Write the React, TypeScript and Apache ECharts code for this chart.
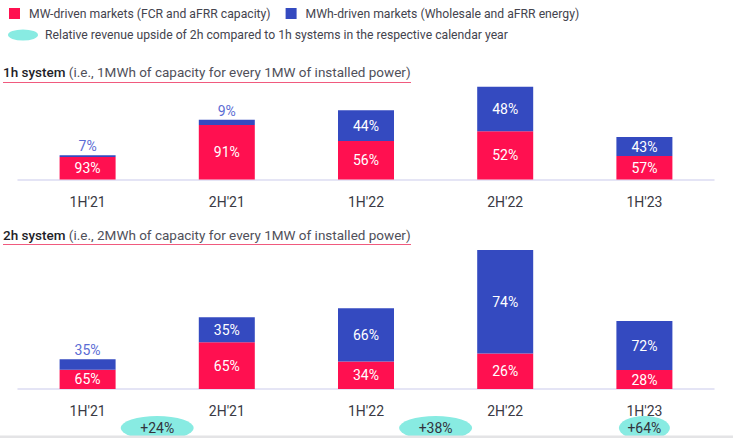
import React, { useEffect, useRef } from "react";
import * as echarts from "echarts";

const categories = ["1H'21", "2H'21", "1H'22", "2H'22", "1H'23"];
// relative revenue (same unit in both panels)
const mw1h = [22.5, 54.4, 38.5, 48.3, 23.5];
const mwh1h = [1.7, 5.4, 30.7, 44.5, 19.0];
const mwShare1h = [93, 91, 56, 52, 57];
const mwhShare1h = [7, 9, 44, 48, 43];
const mw2h = [19.3, 46.7, 27.5, 35.5, 19.0];
const mwh2h = [10.4, 25.0, 53.2, 103.5, 49.0];
const mwShare2h = [65, 65, 34, 26, 28];
const mwhShare2h = [35, 35, 66, 74, 72];
const upsideLabels = ["+24%", "+38%", "+64%"];
const upsidePositions = [0.5, 2.5, 4];
const upsideSpans = [2, 2, 1];

const NAME_MW = "MW-driven markets (FCR and aFRR capacity)";
const NAME_MWH = "MWh-driven markets (Wholesale and aFRR energy)";
const NAME_UP = "Relative revenue upside of 2h compared to 1h systems in the respective calendar year";

const FONT = "Roboto, sans-serif";
const RED = "#ff1050";
const BLUE = "#344ac0";
const TEAL = "#88ebe2";
const ELLIPSE = "path://M0 50 A50 50 0 1 1 100 50 A50 50 0 1 1 0 50 Z";

function blueData(vals: number[]) {
  return vals.map((v) =>
    v < 12
      ? { value: v, label: { position: "top", color: "#5b6cd4", distance: 2 } }
      : { value: v }
  );
}

export default function App() {
  const ref = useRef<HTMLDivElement>(null);
  useEffect(() => {
    document.body.style.margin = "0";
    const chart = echarts.init(ref.current!, undefined, { renderer: "svg" });
    const axisX = (gi: number) => ({
      type: "category",
      gridIndex: gi,
      data: categories,
      axisTick: { show: false },
      axisLine: { lineStyle: { color: "#dcdcf2", width: 1.5 } },
      axisLabel: { color: "#3a3a44", fontSize: 14, fontFamily: FONT, margin: 15 },
    });
    const labelInside = (shares: number[]) => ({
      show: true,
      position: "inside",
      color: "#fff",
      fontSize: 14,
      fontFamily: FONT,
      formatter: (p: any) => shares[p.dataIndex] + "%",
    });
    const titleText = (y: number, bold: string, rest: string) => ({
      type: "text",
      x: 3,
      y,
      style: {
        text: "{b|" + bold + "} {n|" + rest + "}",
        verticalAlign: "middle",
        rich: {
          b: { fontSize: 13.5, fontFamily: FONT, fontWeight: 500, fill: "#1e1e28" },
          n: { fontSize: 13.5, fontFamily: FONT, fill: "#50505a" },
        },
      },
    });
    chart.setOption({
      animation: false,
      legend: [
        {
          data: [NAME_MW, NAME_MWH],
          left: 4,
          top: 2.5,
          icon: "rect",
          itemWidth: 11,
          itemHeight: 11,
          itemGap: 15,
          selectedMode: false,
          textStyle: { color: "#44444e", fontSize: 12.2, fontFamily: FONT, padding: [0, 0, 0, 4] },
        },
        {
          data: [{ name: NAME_UP, icon: ELLIPSE }],
          left: 3,
          top: 24,
          itemWidth: 30,
          itemHeight: 11,
          symbolKeepAspect: false,
          selectedMode: false,
          textStyle: { color: "#44444e", fontSize: 12.2, fontFamily: FONT, padding: [0, 0, 0, 2] },
        },
      ],
      grid: [
        { left: 18, right: 19, top: 80, height: 99.5 },
        { left: 18, right: 19, top: 245, height: 144 },
        { left: 18, right: 19, top: 418, height: 24 },
      ],
      xAxis: [
        axisX(0),
        axisX(1),
        { type: "value", gridIndex: 2, min: -0.5, max: 4.5, show: false },
      ],
      yAxis: [
        { type: "value", gridIndex: 0, min: 0, max: 99.5, show: false },
        { type: "value", gridIndex: 1, min: 0, max: 144, show: false },
        { type: "value", gridIndex: 2, min: 0, max: 1, show: false },
      ],
      series: [
        {
          name: NAME_MW, type: "bar", stack: "a", xAxisIndex: 0, yAxisIndex: 0,
          barWidth: 56, itemStyle: { color: RED }, data: mw1h, label: labelInside(mwShare1h),
        },
        {
          name: NAME_MWH, type: "bar", stack: "a", xAxisIndex: 0, yAxisIndex: 0,
          barWidth: 56, itemStyle: { color: BLUE }, data: blueData(mwh1h), label: labelInside(mwhShare1h),
        },
        {
          name: NAME_MW, type: "bar", stack: "b", xAxisIndex: 1, yAxisIndex: 1,
          barWidth: 56, itemStyle: { color: RED }, data: mw2h, label: labelInside(mwShare2h),
        },
        {
          name: NAME_MWH, type: "bar", stack: "b", xAxisIndex: 1, yAxisIndex: 1,
          barWidth: 56, itemStyle: { color: BLUE }, data: blueData(mwh2h), label: labelInside(mwhShare2h),
        },
        {
          name: NAME_UP, type: "scatter", xAxisIndex: 2, yAxisIndex: 2,
          symbol: ELLIPSE, clip: false,
          symbolSize: (_v: any, p: any) => [upsideSpans[p.dataIndex] === 2 ? 73 : 51, 24],
          itemStyle: { color: TEAL, opacity: 1 },
          data: upsidePositions.map((x) => [x, 0.5]),
          label: {
            show: true, position: "inside", color: "#33333d", fontSize: 14, fontFamily: FONT,
            formatter: (p: any) => upsideLabels[p.dataIndex],
          },
        },
      ],
      graphic: [
        titleText(72, "1h system", "(i.e., 1MWh of capacity for every 1MW of installed power)"),
        { type: "line", shape: { x1: 3, y1: 82.5, x2: 411, y2: 82.5 }, style: { stroke: "#f05a7e", lineWidth: 1 } },
        titleText(235, "2h system", "(i.e., 2MWh of capacity for every 1MW of installed power)"),
        { type: "line", shape: { x1: 3, y1: 244.5, x2: 411, y2: 244.5 }, style: { stroke: "#f05a7e", lineWidth: 1 } },
        { type: "rect", z: 100, shape: { x: 0, y: 435.5, width: 733, height: 3 }, style: { fill: "#e4e4e6" } },
      ],
    });
    return () => chart.dispose();
  }, []);
  return <div ref={ref} style={{ width: 733, height: 438 }} />;
}
